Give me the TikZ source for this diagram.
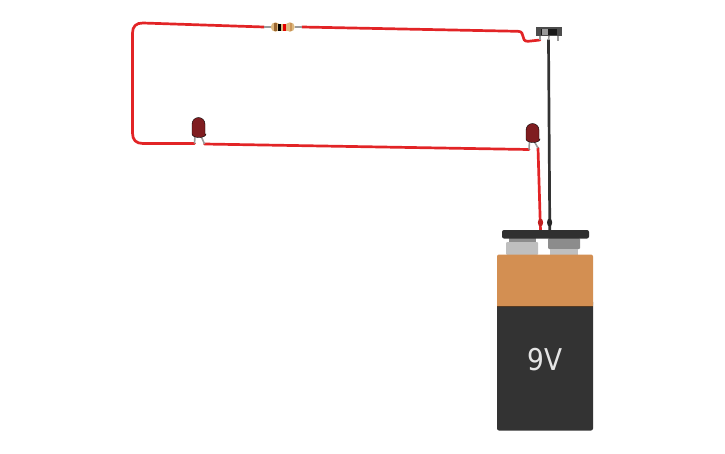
\documentclass[tikz,border=0pt]{standalone}
\usepackage{fontspec}
\setmainfont{DejaVu Sans}
\definecolor{wirered}{HTML}{E22426}
\definecolor{wireblack}{HTML}{333333}
\definecolor{ledred}{HTML}{7F1D20}
\definecolor{leadgray}{HTML}{9A9A9A}
\definecolor{tan}{HTML}{DDB980}
\definecolor{batorange}{HTML}{D38F52}
\definecolor{batdark}{HTML}{333333}
\tikzset{
  redwire/.style={draw=wirered,line width=2.7pt,line cap=round,line join=round},
  blackwire/.style={draw=wireblack,line width=2.7pt,line cap=round},
  lead/.style={draw=leadgray,line width=1.6pt},
  ledbody/.style={fill=ledred},
  band/.style={minimum width=#1,minimum height=7.5pt,inner sep=0pt,outer sep=0pt},
  box/.style={inner sep=0pt,outer sep=0pt,anchor=north west},
  bulb/.style={circle,fill=tan,minimum size=9.5pt,inner sep=0pt,outer sep=0pt},
}
\begin{document}
\begin{tikzpicture}[x=1pt,y=-1pt]
\useasboundingbox (0,0) rectangle (725,453);
% free wire ends
\coordinate (rl) at (264,27);
\coordinate (rr) at (302,27);
\coordinate (swl) at (540,40);
\coordinate (swc) at (548.5,40);
\coordinate (la) at (194.5,143.5);
\coordinate (lb) at (204.5,144);
\coordinate (ma) at (529,149.5);
\coordinate (mb) at (538,148);
\coordinate (bpr) at (540.5,231);
\coordinate (bpk) at (549.8,231);
% red wires
\draw[redwire] (rl) -- (143,23) .. controls (136,22.8) and (132.5,26.5) .. (132.5,33) -- (132.5,133) .. controls (132.5,140) and (136,143.5) .. (143,143.5) -- (la);
\draw[redwire] (rr) -- (518,31.3) .. controls (526,31.5) and (520,41.5) .. (528,41.3) -- (swl);
\draw[redwire] (lb) -- (ma);
\draw[redwire] (mb) -- (bpr);
\draw[blackwire] (swc) -- (bpk);
% resistor
\draw[lead] (rl) -- (272,27);
\draw[lead] (295,27) -- (rr);
\node[box,fill=tan,minimum width=14pt,minimum height=7pt] (res) at (276,23.5) {};
\node[bulb] (bl) at (275.5,27) {};
\node[bulb] (br) at (290,27) {};
\node[band=3pt,fill=brown!80!black] (b1) at (275.5,27) {};
\node[band=3pt,minimum height=7pt,fill=black] (b2) at (279.5,27) {};
\node[band=3pt,minimum height=7pt,fill=red!90!black] (b3) at (284.5,27) {};
\node[band=2pt,fill=brown!60!tan] (b4) at (291,27) {};
% switch
\draw[lead] (540,36) -- (swl);
\draw[lead] (549,36) -- (swc);
\draw[lead] (558,36) -- (558,41);
\node[box,fill=black!70,minimum width=26pt,minimum height=9pt] (sw) at (536,27) {};
\node[box,fill=black!90,minimum width=16pt,minimum height=6pt] (swin) at (541,28.5) {};
\node[box,fill=black!40,minimum width=6pt,minimum height=6pt] (swk) at (541.5,28.5) {};
% LEDs
\draw[lead] (195,136) -- (la);
\draw[lead] (201,136) -- (lb);
\draw[ledbody] (192,134) -- (192,124) arc (180:360:6.5) -- (205,134) -- (206,134) arc (0:180:7 and 3.5) -- cycle;
\draw[lead] (529.5,141) -- (ma);
\draw[lead] (534,141) -- (mb);
\draw[ledbody] (526,139) -- (526,130) arc (180:360:6.5) -- (539,139) -- (540,139) arc (0:180:7 and 3.5) -- cycle;
% battery snap tips
\fill[wirered!85!black] (540.5,222.5) ellipse (2.6 and 4);
\fill[black!85] (549.6,222.5) ellipse (2.6 and 4);
% battery
\node[box,fill=black!45,minimum width=27pt,minimum height=5pt] (t1) at (509,238) {};
\node[box,fill=black!25,rounded corners=1pt,minimum width=32pt,minimum height=13pt] (t2) at (506,242) {};
\node[box,fill=black!45,rounded corners=1pt,minimum width=32pt,minimum height=11pt] (t3) at (548,238) {};
\node[box,fill=black!25,minimum width=28pt,minimum height=6pt] (t4) at (550,249) {};
\node[box,fill=batdark!95!black,rounded corners=2pt,minimum width=87pt,minimum height=8.5pt] (cap) at (502,230) {};
\node[box,fill=batdark,rounded corners=2pt,minimum width=96pt,minimum height=130.5pt] (dark) at (497,300) {};
\fill[batorange,rounded corners=2pt] (497,306.5) -- (497,254.5) -- (593,254.5) -- (593,306.5) -- cycle;
\fill[batorange] (497,300) rectangle (593,306.5);
\draw[black!60!batorange,line width=0.6pt] (497,306.5) -- (593,306.5);
\node[text=black!10,font=\fontsize{30}{30}\selectfont,inner sep=0pt,xscale=0.88] (v) at (545,360) {9V};
\end{tikzpicture}
\end{document}
